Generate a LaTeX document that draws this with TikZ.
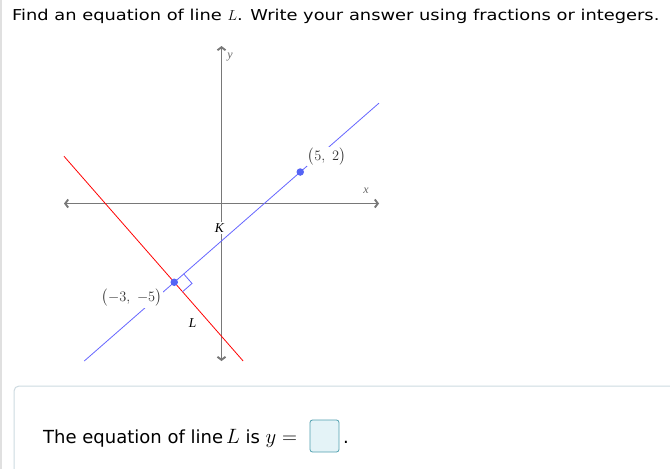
\documentclass[tikz,border=0pt]{standalone}
\usepackage{amsmath}
\usepackage{fontspec}
\setmainfont{DejaVu Sans}
\newfontfamily\enunfont{DejaVu Sans}[FakeStretch=1.19]
\newfontfamily\graphfont{Liberation Serif}
\usetikzlibrary{positioning}
\usetikzlibrary{arrows.meta}

\definecolor{ejegris}{RGB}{120,120,120}
\definecolor{azul}{RGB}{100,100,255}
\definecolor{punto}{RGB}{85,100,245}
\definecolor{borde}{RGB}{205,218,224}
\definecolor{cajafondo}{RGB}{228,243,247}
\definecolor{cajaborde}{RGB}{80,160,175}

\tikzset{
  eje/.style={draw=ejegris, line width=1.9pt, {Straight Barb[length=3pt,width=8pt]}-{Straight Barb[length=3pt,width=8pt]}},
  rectaK/.style={draw=azul, line width=0.8pt},
  rectaL/.style={draw=red, line width=0.8pt},
  pto/.style={circle, fill=punto, inner sep=0pt, minimum size=7.5pt},
  etiq/.style={fill=white, inner sep=2pt, font=\graphfont\itshape\fontsize{13.5}{15}\selectfont},
  nomeje/.style={inner sep=0pt, text=black!60, font=\graphfont\itshape\fontsize{12}{14}\selectfont},
  coord/.style={fill=white, inner sep=1pt, text=black!80, font=\fontsize{13.5}{15}\selectfont},
  caja/.style={draw=cajaborde, fill=cajafondo, line width=0.8pt, rounded corners=2.5pt, minimum width=29pt, minimum height=32pt, inner sep=0pt}
}

\begin{document}
\begin{tikzpicture}[x=1pt, y=-1pt]
            \useasboundingbox (0,0) rectangle (670,469);
            % Marco
            \draw[black!12, line width=1.5pt] (0.75,0) -- (0.75,469);
            \draw[borde, line width=1pt, rounded corners=5pt] (14,486) -- (14,386) -- (690,386);

            % Enunciado
            \node[anchor=base west, inner sep=0pt, font=\enunfont\fontsize{15}{18}\selectfont] (enunciado) at (12,20.5)
              {Find an equation of line $L$. Write your answer using fractions or integers.};

            % Plano
            \begin{scope}[shift={(221.5,203.5)}, x=15.75pt, y=15.75pt]
              \coordinate (xmin) at (-10,0);
              \coordinate (xmax) at (10,0);
              \coordinate (ymin) at (0,-10);
              \coordinate (ymax) at (0,10);
              \draw[eje] (xmin) -- (xmax);
              \draw[eje] (ymin) -- (ymax);
              \node[nomeje] (ex) at (9.17,0.81) {x};
              \node[nomeje] (ey) at (0.54,9.30) {y};

              % Rectas
              \coordinate (K1) at (-8.714,-10);
              \coordinate (K2) at (10,6.375);
              \coordinate (L1) at (-10,3);
              \coordinate (L2) at (1.375,-10);
              \draw[rectaK] (K1) -- (K2);
              \draw[rectaL] (L1) -- (L2);

              % Angulo recto
              \coordinate (A1) at (-2.398,-4.473);
              \coordinate (A2) at (-1.871,-5.075);
              \coordinate (A3) at (-2.473,-5.602);
              \draw[rectaK] (A1) -- (A2) -- (A3);

              % Puntos
              \node[pto] (P) at (5,2) {};
              \node[pto] (Q) at (-3,-5) {};
              \node[coord] (lP) at (6.68,2.97) {$\bigl(5,\ 2\bigr)$};
              \node[coord] (lQ) at (-5.70,-6.0) {$\bigl(-3,\ -5\bigr)$};
              \node[etiq] (lK) at (-0.14,-1.56) {K};
              \node[etiq, fill=none] (lL) at (-1.83,-7.59) {L};
            \end{scope}

            % Respuesta
            \node[anchor=base west, inner sep=0pt, font=\fontsize{18}{21}\selectfont] (respuesta) at (43,443)
              {The equation of line\,{\fontsize{22}{26}\selectfont$L$} is {\fontsize{22}{26}\selectfont$y=$}};
            \node[caja] (hueco) at (324.5,436) {};
            \node[anchor=base west, inner sep=0pt, font=\fontsize{18}{21}\selectfont] (fin) at (343,443) {.};
          \end{tikzpicture}
\end{document}
